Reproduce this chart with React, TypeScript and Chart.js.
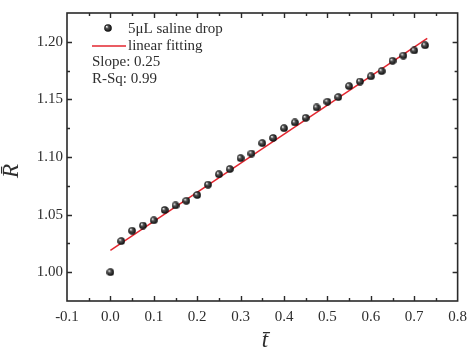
import React, { useEffect, useRef } from "react";
import { Chart, registerables } from "chart.js";

Chart.register(...registerables);

const tValues = [
  0, 0.025, 0.05, 0.075, 0.1, 0.125, 0.15, 0.175, 0.2, 0.225,
  0.25, 0.275, 0.3, 0.325, 0.35, 0.375, 0.4, 0.425, 0.45, 0.475,
  0.5, 0.525, 0.55, 0.575, 0.6, 0.625, 0.65, 0.675, 0.7, 0.725,
];
const rValues = [
  1.0, 1.027, 1.036, 1.0405, 1.045, 1.054, 1.058, 1.062, 1.067, 1.076,
  1.085, 1.0895, 1.099, 1.103, 1.112, 1.1165, 1.125, 1.13, 1.134, 1.143,
  1.148, 1.152, 1.1615, 1.1655, 1.17, 1.1745, 1.1835, 1.188, 1.1925, 1.197,
];
const fitT = [0, 0.73];
const fitR = [1.019, 1.203];

const xTicks = [-0.1, 0, 0.1, 0.2, 0.3, 0.4, 0.5, 0.6, 0.7, 0.8];
const xMinorTicks = [-0.05, 0.05, 0.15, 0.25, 0.35, 0.45, 0.55, 0.65, 0.75];
const yTicks = [1.0, 1.05, 1.1, 1.15, 1.2];
const yMinorTicks = [1.025, 1.075, 1.125, 1.175];

const seriesLabels = ["5\u03bcL saline drop", "linear fitting"];
const statLines = ["Slope: 0.25", "R-Sq: 0.99"];
const xTitle = "t\u0304";
const yTitle = "R\u0304";

const FONT = "'Liberation Serif', 'Times New Roman', serif";
const TEXT = "#2e2e2e";
const AXIS = "#2a2a2a";
const RED = "#e3262f";

function makeSphere(): HTMLCanvasElement {
  const size = 8;
  const c = document.createElement("canvas");
  c.width = size;
  c.height = size;
  const g = c.getContext("2d")!;
  const r = size / 2;
  const grad = g.createRadialGradient(r - 1.3, r - 1.3, 0.3, r, r, r);
  grad.addColorStop(0, "#f0f0f0");
  grad.addColorStop(0.3, "#555555");
  grad.addColorStop(1, "#000000");
  g.fillStyle = grad;
  g.beginPath();
  g.arc(r, r, r - 0.2, 0, Math.PI * 2);
  g.fill();
  return c;
}

export default function App() {
  const ref = useRef<HTMLCanvasElement | null>(null);

  useEffect(() => {
    if (!ref.current) return;
    const sphere = makeSphere();

    const frame = {
      id: "frame",
      afterDatasetsDraw(chart: any) {
        const { ctx, chartArea: a, scales } = chart;
        const xs = scales.x;
        const ys = scales.y;
        ctx.save();
        ctx.strokeStyle = AXIS;
        ctx.lineWidth = 1.6;
        ctx.strokeRect(a.left, a.top, a.right - a.left, a.bottom - a.top);
        ctx.lineWidth = 1.4;
        const tick = (vals: number[], len: number) => {
          vals.forEach((v) => {
            const px = Math.round(xs.getPixelForValue(v)) + 0.5;
            if (px > a.left + 1 && px < a.right - 1) {
              ctx.beginPath();
              ctx.moveTo(px, a.bottom);
              ctx.lineTo(px, a.bottom - len);
              ctx.moveTo(px, a.top);
              ctx.lineTo(px, a.top + len);
              ctx.stroke();
            }
          });
        };
        const ytick = (vals: number[], len: number) => {
          vals.forEach((v) => {
            const py = Math.round(ys.getPixelForValue(v)) + 0.5;
            if (py > a.top + 1 && py < a.bottom - 1) {
              ctx.beginPath();
              ctx.moveTo(a.left, py);
              ctx.lineTo(a.left + len, py);
              ctx.moveTo(a.right, py);
              ctx.lineTo(a.right - len, py);
              ctx.stroke();
            }
          });
        };
        tick(xTicks, 5);
        tick(xMinorTicks, 3);
        ytick(yTicks, 5);
        ytick(yMinorTicks, 3);

        // legend
        ctx.fillStyle = TEXT;
        ctx.font = `15px ${FONT}`;
        ctx.textBaseline = "middle";
        ctx.textAlign = "left";
        ctx.drawImage(sphere, 104, 24);
        ctx.fillText(seriesLabels[0], 128, 29);
        ctx.strokeStyle = RED;
        ctx.lineWidth = 1.5;
        ctx.beginPath();
        ctx.moveTo(92, 46);
        ctx.lineTo(126, 46);
        ctx.stroke();
        ctx.fillText(seriesLabels[1], 128, 46);
        ctx.fillText(statLines[0], 92, 62);
        ctx.fillText(statLines[1], 92, 79);

        // axis titles
        ctx.font = `italic 23px ${FONT}`;
        ctx.textAlign = "center";
        ctx.fillText(xTitle, 265, 341);
        ctx.save();
        ctx.translate(12, 171);
        ctx.rotate(-Math.PI / 2);
        ctx.fillText(yTitle, 0, 0);
        ctx.restore();
        ctx.restore();
      },
    };

    const chart = new Chart(ref.current, {
      type: "scatter",
      data: {
        datasets: [
          {
            label: seriesLabels[0],
            data: tValues.map((t, i) => ({ x: t, y: rValues[i] })),
            pointStyle: sphere as any,
            pointRadius: 4,
            showLine: false,
          },
          {
            label: seriesLabels[1],
            data: fitT.map((t, i) => ({ x: t, y: fitR[i] })),
            showLine: true,
            borderColor: RED,
            borderWidth: 1.5,
            pointRadius: 0,
          },
        ],
      },
      options: {
        animation: false,
        responsive: false,
        maintainAspectRatio: false,
        layout: { padding: { top: 7, right: 11, left: 0, bottom: 0 } },
        plugins: { legend: { display: false }, tooltip: { enabled: false } },
        scales: {
          x: {
            type: "linear",
            min: -0.1,
            max: 0.8,
            afterBuildTicks: (s: any) => {
              s.ticks = xTicks.map((v) => ({ value: v }));
            },
            afterFit: (s: any) => {
              s.height = 52;
            },
            grid: { display: false, drawTicks: false },
            border: { display: false },
            ticks: {
              padding: 7,
              color: TEXT,
              font: { family: FONT, size: 15 },
              maxRotation: 0,
              callback: (v: any) => Number(v).toFixed(1),
            },
          },
          y: {
            type: "linear",
            min: 0.975,
            max: 1.225,
            afterBuildTicks: (s: any) => {
              s.ticks = yTicks.map((v) => ({ value: v }));
            },
            afterFit: (s: any) => {
              s.width = 67;
            },
            grid: { display: false, drawTicks: false },
            border: { display: false },
            ticks: {
              padding: 4,
              color: TEXT,
              font: { family: FONT, size: 15 },
              callback: (v: any) => Number(v).toFixed(2),
            },
          },
        },
      },
      plugins: [frame],
    });
    return () => chart.destroy();
  }, []);

  return (
    <div style={{ position: "fixed", left: 0, top: 0, width: 474, height: 353, background: "#fff" }}>
      <canvas ref={ref} width={474} height={353} style={{ display: "block" }} />
    </div>
  );
}
